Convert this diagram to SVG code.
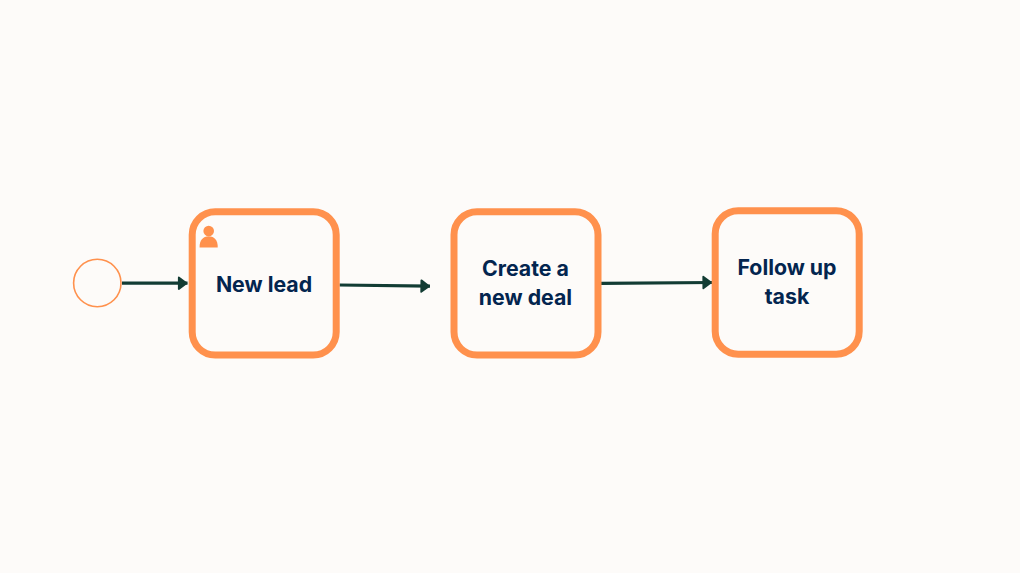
<svg xmlns="http://www.w3.org/2000/svg" width="1020" height="573" viewBox="0 0 1020 573">
<style>
.box{fill:#fdfbf9;stroke:#ff914d;stroke-width:7}
.lbl{font-family:"Inter","Liberation Sans",sans-serif;font-weight:700;font-size:21.300px;fill:#03254f;text-anchor:middle}
.edge{fill:none;stroke:#123c34;stroke-width:3.200}
.icon{fill:#ff914d}
</style>
<defs>
<marker id="arrow" markerUnits="userSpaceOnUse" markerWidth="14" markerHeight="18" refX="11.500" refY="9" orient="auto">
<path d="M2.800 3.200L10.500 9L2.800 14.800Z" fill="#123c34" stroke="#123c34" stroke-width="1.800" stroke-linejoin="round"/>
</marker>
</defs>
<rect width="1020" height="573" fill="#fdfbf9"/>
<g id="connectors">
<path class="edge" d="M122 283.200H187.500" marker-end="url(#arrow)"/>
<path class="edge" d="M339.500 285L430 286.200" marker-end="url(#arrow)"/>
<path class="edge" d="M601 283.300L712 282.500" marker-end="url(#arrow)"/>
</g>
<g id="start">
<circle cx="97.300" cy="283" r="23.700" fill="#fdfbf9" stroke="#ff914d" stroke-width="1.600"/>
</g>
<g id="new-lead">
<rect class="box" x="192.200" y="211.700" width="144" height="143.400" rx="23"/>
<circle class="icon" cx="208.700" cy="231" r="5.300"/>
<path class="icon" d="M199.600 247.500C199.300 240.500 203 236.300 208.700 236.300C214.400 236.300 218 240.500 217.700 247.500Z"/>
<text class="lbl" x="264" y="291.500">New lead</text>
</g>
<g id="create-deal">
<rect class="box" x="454" y="211.700" width="144" height="143.400" rx="23"/>
<text class="lbl" x="525.500" y="275.500">Create a</text>
<text class="lbl" x="525.500" y="304.500">new deal</text>
</g>
<g id="follow-up">
<rect class="box" x="715.200" y="210.800" width="144" height="143.400" rx="23"/>
<text class="lbl" x="787" y="274.500">Follow up</text>
<text class="lbl" x="787" y="303.500">task</text>
</g>
</svg>
